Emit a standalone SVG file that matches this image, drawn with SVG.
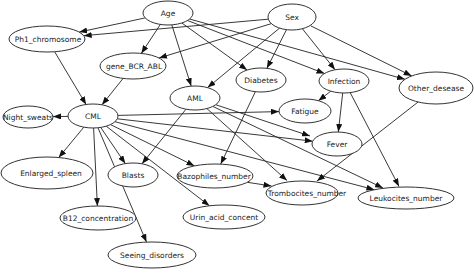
<svg xmlns="http://www.w3.org/2000/svg" width="474" height="277" viewBox="0 0 474 277">
<style>
.n ellipse{fill:#ffffff;stroke:#333333;stroke-width:1}
.n text{font-family:"DejaVu Sans",sans-serif;font-size:7.5px;fill:#222222;text-anchor:middle}
#edges path{fill:none;stroke:#222222;stroke-width:0.9;marker-end:url(#ah)}
</style>
<defs>
<marker id="ah" markerUnits="userSpaceOnUse" markerWidth="8" markerHeight="6" refX="8" refY="3" orient="auto">
<path d="M0,0 L8,3 L0,6 z" fill="#111111"/>
</marker>
</defs>
<rect width="474" height="277" fill="#ffffff"/>
<g id="edges">
<path d="M145.2,17.9 L79.2,32.1"/>
<path d="M269.3,19.1 L83.7,35.7"/>
<path d="M160.4,24.4 L141.3,53.4"/>
<path d="M272.1,23.4 L159,58"/>
<path d="M171.8,24.9 L191.2,86.1"/>
<path d="M279.8,27.9 L207.6,87.6"/>
<path d="M181.9,23 L247.1,70"/>
<path d="M286.6,29.5 L266.9,68.3"/>
<path d="M187.5,20.5 L324.5,73.5"/>
<path d="M302.5,28.9 L335.1,69.8"/>
<path d="M189.6,19 L404.9,79.3"/>
<path d="M310.7,25.8 L411.7,75.9"/>
<path d="M54.6,51.7 L86.1,104.5"/>
<path d="M123.1,78.4 L102,104.8"/>
<path d="M68,116.4 L53,116.6"/>
<path d="M83.8,127.2 L58.7,157.6"/>
<path d="M100.7,127.4 L125.3,163.6"/>
<path d="M93.6,128 L97.4,206"/>
<path d="M98,127.8 L146.5,242.1"/>
<path d="M110.5,124.6 L194.5,165.9"/>
<path d="M106.2,126.2 L209.4,205.8"/>
<path d="M118,115.4 L279,111.6"/>
<path d="M117.3,118.8 L312.7,141.2"/>
<path d="M114.9,121.7 L374.4,189.7"/>
<path d="M186,109.2 L142,163.8"/>
<path d="M215.7,104.7 L310,136"/>
<path d="M206.9,108.6 L287,180.5"/>
<path d="M212.8,106.4 L383,188"/>
<path d="M255.4,91.7 L220.7,164.1"/>
<path d="M330.8,91.2 L318.4,100.7"/>
<path d="M342.7,93 L338.3,132"/>
<path d="M350.2,92.6 L399,186.5"/>
<path d="M418.1,102 L317,181"/>
<path d="M247.3,182.3 L271.5,186"/>
</g>
<g id="Age" class="n"><ellipse cx="168" cy="13" rx="25" ry="12"/><text x="168" y="16">Age</text></g>
<g id="Sex" class="n"><ellipse cx="292" cy="17" rx="24" ry="13"/><text x="292" y="20">Sex</text></g>
<g id="Ph1_chromosome" class="n"><ellipse cx="47" cy="39" rx="38" ry="13"/><text x="48" y="42">Ph1_chromosome</text></g>
<g id="gene_BCR_ABL" class="n"><ellipse cx="133" cy="66" rx="33" ry="13"/><text x="134" y="69">gene_BCR_ABL</text></g>
<g id="AML" class="n"><ellipse cx="195" cy="98" rx="25" ry="12"/><text x="195" y="101">AML</text></g>
<g id="CML" class="n"><ellipse cx="93" cy="116" rx="25" ry="12"/><text x="93" y="119">CML</text></g>
<g id="Night_sweats" class="n"><ellipse cx="28" cy="117" rx="25" ry="11"/><text x="28" y="120">Night_sweats</text></g>
<g id="Diabetes" class="n"><ellipse cx="261" cy="80" rx="25" ry="12"/><text x="261" y="83">Diabetes</text></g>
<g id="Infection" class="n"><ellipse cx="344" cy="81" rx="25" ry="12"/><text x="344" y="84">Infection</text></g>
<g id="Other_desease" class="n"><ellipse cx="436" cy="88" rx="37" ry="16"/><text x="436" y="91">Other_desease</text></g>
<g id="Fatigue" class="n"><ellipse cx="305" cy="111" rx="26" ry="12"/><text x="305" y="114">Fatigue</text></g>
<g id="Fever" class="n"><ellipse cx="337" cy="144" rx="25" ry="12"/><text x="337" y="147">Fever</text></g>
<g id="Enlarged_spleen" class="n"><ellipse cx="47" cy="173" rx="46" ry="16"/><text x="51" y="176">Enlarged_spleen</text></g>
<g id="Blasts" class="n"><ellipse cx="133" cy="175" rx="25" ry="12"/><text x="133" y="178">Blasts</text></g>
<g id="Bazophiles_number" class="n"><ellipse cx="215" cy="176" rx="38" ry="12"/><text x="214" y="179">Bazophiles_number</text></g>
<g id="B12_concentration" class="n"><ellipse cx="98" cy="218" rx="38" ry="12"/><text x="98" y="221">B12_concentration</text></g>
<g id="Urin_acid_concent" class="n"><ellipse cx="224" cy="217" rx="41" ry="12"/><text x="224" y="220">Urin_acid_concent</text></g>
<g id="Seeing_disorders" class="n"><ellipse cx="152" cy="255" rx="44" ry="13"/><text x="152" y="258">Seeing_disorders</text></g>
<g id="Trombocites_number" class="n"><ellipse cx="302" cy="193" rx="36" ry="12"/><text x="307" y="196">Trombocites_number</text></g>
<g id="Leukocites_number" class="n"><ellipse cx="406" cy="198" rx="48" ry="11"/><text x="406" y="201">Leukocites_number</text></g>
</svg>
